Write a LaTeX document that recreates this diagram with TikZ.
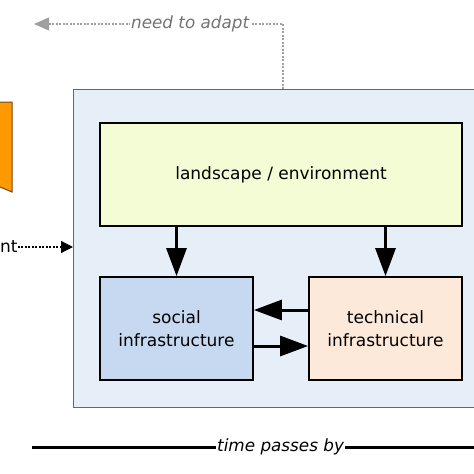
\documentclass[tikz,border=0pt]{standalone}
\usepackage{fontspec}
\setmainfont{DejaVu Sans}
\usepackage{tikz}
\usetikzlibrary{arrows.meta,positioning,calc}
\definecolor{sysblue}{RGB}{230,238,248}
\definecolor{landgreen}{RGB}{243,252,212}
\definecolor{socialblue}{RGB}{198,217,240}
\definecolor{techorange}{RGB}{253,233,217}
\definecolor{flagorange}{RGB}{255,153,0}
\definecolor{flagbrown}{RGB}{120,70,20}
\definecolor{adaptgray}{RGB}{160,160,160}

\begin{document}
\begin{tikzpicture}[
    x=1pt, y=-1pt,
    every node/.style={font=\fontsize{17}{23}\selectfont},
    part/.style={rectangle, draw=black, line width=1.8pt, align=center, inner sep=0pt},
    arrow/.style={-{Triangle[length=28pt, width=20pt]}, line width=3pt},
    darrow/.style={-{Triangle[length=12pt, width=12pt]}, dash pattern=on 2pt off 1.5pt, line width=1.2pt},
    garrow/.style={{Triangle[length=15pt, width=13pt, fill=adaptgray]}-, draw=adaptgray, dash pattern=on 2pt off 1.5pt, line width=1.2pt},
    label/.style={font=\fontsize{16.8}{20}\selectfont\itshape, fill=white, inner sep=1pt}
]
    \useasboundingbox (0,0) rectangle (474,474);
    \clip (0,0) rectangle (474,474);

    % surrounding system
    \node[rectangle, draw=black!60, line width=1.2pt, fill=sysblue, minimum width=420pt, minimum height=318pt, anchor=north west] (system) at (73,89) {};

    % cut-off neighbour on the left
    \draw[draw=flagbrown, line width=1pt, fill=flagorange] (-10,102) -- (12,102) -- (12,192) .. controls (5,189) .. (-10,183) -- cycle;
    \node[anchor=west, inner sep=0pt] (event) at (0,247) {nt};

    % Parts
    \node[part, fill=landgreen, minimum width=362pt, minimum height=103pt] (land) at (281,174.5) {landscape / environment};
    \node[part, fill=socialblue, minimum width=153pt, minimum height=103pt] (social) at (176.5,328.5) {social\\infrastructure};
    \node[part, fill=techorange, minimum width=153pt, minimum height=103pt] (tech) at (385.5,328.5) {technical\\infrastructure};

    % Arrows
    \draw[arrow] (land.south -| social) -- (social.north);
    \draw[arrow] (land.south -| tech) -- (tech.north);
    \draw[arrow] ($(tech.west)+(0,-18.5)$) -- ($(social.east)+(0,-18.5)$);
    \draw[arrow] ($(social.east)+(0,17.5)$) -- ($(tech.west)+(0,17.5)$);
    \draw[darrow] (event.east) -- (event.east -| system.west);

    % need to adapt
    \coordinate (adaptcorner) at (283,24);
    \coordinate (adapttip) at (34,24);
    \draw[garrow] (adapttip) -- node[label, text=black!55, pos=0.627] {need to adapt} (adaptcorner) -- (adaptcorner |- system.north);

    % time line
    \coordinate (timestart) at (32,447);
    \coordinate (timeend) at (480,447);
    \draw[line width=3pt] (timestart) -- node[label, pos=0.555] {time passes by} (timeend);
\end{tikzpicture}
\end{document}
